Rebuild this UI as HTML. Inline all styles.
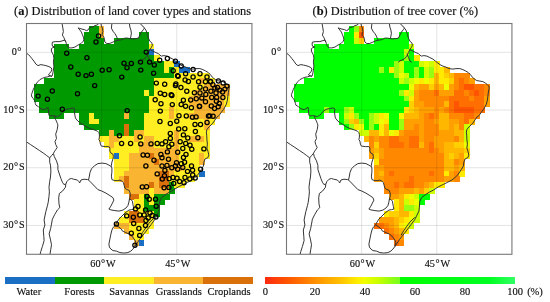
<!DOCTYPE html>
<html><head><meta charset="utf-8"><style>
html,body{margin:0;padding:0;background:#fff;}
body{width:550px;height:302px;position:relative;overflow:hidden;font-family:"Liberation Serif","Times New Roman",serif;color:#111;-webkit-text-stroke:0.15px #111;}
.t{position:absolute;font-size:12.4px;white-space:nowrap;line-height:14px;top:3.6px;}
.dg{display:inline-block;margin:0 0.9px 0 0.5px;}
.map{position:absolute;overflow:visible;}
.yl{position:absolute;font-size:10.2px;line-height:12px;white-space:nowrap;text-align:right;}
.xl{position:absolute;font-size:10.2px;line-height:12px;width:40px;text-align:center;white-space:nowrap;}
.cb{position:absolute;top:277.3px;height:6.6px;}
.cl{position:absolute;top:285.6px;font-size:10.5px;line-height:12px;white-space:nowrap;text-align:center;width:60px;}
</style></head><body>
<div class="t" style="left:14px">(<b>a</b>) Distribution of land cover types and stations</div>
<div class="t" style="left:312.5px">(<b>b</b>) Distribution of tree cover (%)</div>
<svg class="map" style="left:26.10px;top:22.90px" width="226.45" height="231.80" viewBox="-0.5 -0.5 226.45 231.80">
<svg x="0" y="0" width="225.45" height="230.80" overflow="hidden" shape-rendering="crispEdges"><rect x="62.62" y="2.88" width="10.27" height="6.02" fill="#009900"/><rect x="72.64" y="2.88" width="5.26" height="6.02" fill="#f9b532"/><rect x="57.61" y="8.65" width="15.28" height="6.02" fill="#009900"/><rect x="72.64" y="8.65" width="5.26" height="6.02" fill="#f9b532"/><rect x="112.72" y="8.65" width="10.27" height="6.02" fill="#009900"/><rect x="57.61" y="14.42" width="20.29" height="6.02" fill="#009900"/><rect x="87.67" y="14.42" width="35.32" height="6.02" fill="#009900"/><rect x="27.55" y="20.20" width="15.28" height="6.02" fill="#009900"/><rect x="52.60" y="20.20" width="70.39" height="6.02" fill="#009900"/><rect x="122.74" y="20.20" width="5.26" height="6.02" fill="#ffee22"/><rect x="27.55" y="25.96" width="95.44" height="6.02" fill="#009900"/><rect x="122.74" y="25.96" width="5.26" height="6.02" fill="#1a6fc4"/><rect x="27.55" y="31.73" width="100.45" height="6.02" fill="#009900"/><rect x="127.75" y="31.73" width="5.26" height="6.02" fill="#ffee22"/><rect x="27.55" y="37.50" width="110.47" height="6.02" fill="#009900"/><rect x="137.78" y="37.50" width="10.27" height="6.02" fill="#ffee22"/><rect x="147.79" y="37.50" width="5.26" height="6.02" fill="#1a6fc4"/><rect x="27.55" y="43.27" width="110.47" height="6.02" fill="#009900"/><rect x="137.78" y="43.27" width="5.26" height="6.02" fill="#ffee22"/><rect x="142.78" y="43.27" width="5.26" height="6.02" fill="#009900"/><rect x="147.79" y="43.27" width="5.26" height="6.02" fill="#ffee22"/><rect x="152.81" y="43.27" width="10.27" height="6.02" fill="#1a6fc4"/><rect x="27.55" y="49.04" width="120.49" height="6.02" fill="#009900"/><rect x="147.79" y="49.04" width="35.32" height="6.02" fill="#ffee22"/><rect x="17.54" y="54.81" width="110.47" height="6.02" fill="#009900"/><rect x="127.75" y="54.81" width="45.34" height="6.02" fill="#ffee22"/><rect x="172.84" y="54.81" width="5.26" height="6.02" fill="#f9b532"/><rect x="177.85" y="54.81" width="10.27" height="6.02" fill="#ffee22"/><rect x="7.51" y="60.58" width="120.49" height="6.02" fill="#009900"/><rect x="127.75" y="60.58" width="50.35" height="6.02" fill="#ffee22"/><rect x="177.85" y="60.58" width="25.30" height="6.02" fill="#f9b532"/><rect x="7.51" y="66.35" width="110.47" height="6.02" fill="#009900"/><rect x="117.73" y="66.35" width="5.26" height="6.02" fill="#ffee22"/><rect x="122.74" y="66.35" width="5.26" height="6.02" fill="#009900"/><rect x="127.75" y="66.35" width="40.33" height="6.02" fill="#ffee22"/><rect x="167.83" y="66.35" width="35.32" height="6.02" fill="#f9b532"/><rect x="7.51" y="72.12" width="115.48" height="6.02" fill="#009900"/><rect x="122.74" y="72.12" width="40.33" height="6.02" fill="#ffee22"/><rect x="162.82" y="72.12" width="35.32" height="6.02" fill="#f9b532"/><rect x="197.89" y="72.12" width="5.26" height="6.02" fill="#ffee22"/><rect x="12.52" y="77.89" width="110.47" height="6.02" fill="#009900"/><rect x="122.74" y="77.89" width="40.33" height="6.02" fill="#ffee22"/><rect x="162.82" y="77.89" width="35.32" height="6.02" fill="#f9b532"/><rect x="197.89" y="77.89" width="5.26" height="6.02" fill="#ffee22"/><rect x="12.52" y="83.66" width="110.47" height="6.02" fill="#009900"/><rect x="122.74" y="83.66" width="20.29" height="6.02" fill="#ffee22"/><rect x="142.78" y="83.66" width="5.26" height="6.02" fill="#f9b532"/><rect x="147.79" y="83.66" width="20.29" height="6.02" fill="#ffee22"/><rect x="167.83" y="83.66" width="30.31" height="6.02" fill="#f9b532"/><rect x="22.54" y="89.43" width="15.28" height="6.02" fill="#009900"/><rect x="52.60" y="89.43" width="10.27" height="6.02" fill="#009900"/><rect x="62.62" y="89.43" width="5.26" height="6.02" fill="#ffee22"/><rect x="67.63" y="89.43" width="30.31" height="6.02" fill="#009900"/><rect x="97.69" y="89.43" width="5.26" height="6.02" fill="#f9b532"/><rect x="102.70" y="89.43" width="15.28" height="6.02" fill="#009900"/><rect x="117.73" y="89.43" width="25.30" height="6.02" fill="#ffee22"/><rect x="142.78" y="89.43" width="5.26" height="6.02" fill="#f9b532"/><rect x="147.79" y="89.43" width="15.28" height="6.02" fill="#ffee22"/><rect x="162.82" y="89.43" width="30.31" height="6.02" fill="#f9b532"/><rect x="52.60" y="95.20" width="10.27" height="6.02" fill="#009900"/><rect x="62.62" y="95.20" width="10.27" height="6.02" fill="#ffee22"/><rect x="72.64" y="95.20" width="45.34" height="6.02" fill="#009900"/><rect x="117.73" y="95.20" width="60.37" height="6.02" fill="#ffee22"/><rect x="177.85" y="95.20" width="5.26" height="6.02" fill="#f9b532"/><rect x="182.86" y="95.20" width="5.26" height="6.02" fill="#ffee22"/><rect x="57.61" y="100.97" width="40.33" height="6.02" fill="#009900"/><rect x="97.69" y="100.97" width="5.26" height="6.02" fill="#d9700a"/><rect x="102.70" y="100.97" width="15.28" height="6.02" fill="#009900"/><rect x="117.73" y="100.97" width="60.37" height="6.02" fill="#ffee22"/><rect x="177.85" y="100.97" width="5.26" height="6.02" fill="#f9b532"/><rect x="72.64" y="106.74" width="10.27" height="6.02" fill="#009900"/><rect x="82.66" y="106.74" width="5.26" height="6.02" fill="#f9b532"/><rect x="87.67" y="106.74" width="10.27" height="6.02" fill="#009900"/><rect x="97.69" y="106.74" width="5.26" height="6.02" fill="#d9700a"/><rect x="102.70" y="106.74" width="5.26" height="6.02" fill="#009900"/><rect x="107.71" y="106.74" width="10.27" height="6.02" fill="#f9b532"/><rect x="117.73" y="106.74" width="30.31" height="6.02" fill="#ffee22"/><rect x="147.79" y="106.74" width="5.26" height="6.02" fill="#f9b532"/><rect x="152.81" y="106.74" width="30.31" height="6.02" fill="#ffee22"/><rect x="72.64" y="112.51" width="10.27" height="6.02" fill="#ffee22"/><rect x="82.66" y="112.51" width="10.27" height="6.02" fill="#f9b532"/><rect x="92.69" y="112.51" width="15.28" height="6.02" fill="#ffee22"/><rect x="107.71" y="112.51" width="5.26" height="6.02" fill="#f9b532"/><rect x="112.72" y="112.51" width="5.26" height="6.02" fill="#ffee22"/><rect x="117.73" y="112.51" width="10.27" height="6.02" fill="#f9b532"/><rect x="127.75" y="112.51" width="20.29" height="6.02" fill="#ffee22"/><rect x="147.79" y="112.51" width="5.26" height="6.02" fill="#f9b532"/><rect x="152.81" y="112.51" width="10.27" height="6.02" fill="#ffee22"/><rect x="162.82" y="112.51" width="15.28" height="6.02" fill="#f9b532"/><rect x="177.85" y="112.51" width="5.26" height="6.02" fill="#ffee22"/><rect x="77.66" y="118.28" width="5.26" height="6.02" fill="#ffee22"/><rect x="82.66" y="118.28" width="5.26" height="6.02" fill="#f9b532"/><rect x="87.67" y="118.28" width="25.30" height="6.02" fill="#ffee22"/><rect x="112.72" y="118.28" width="15.28" height="6.02" fill="#f9b532"/><rect x="127.75" y="118.28" width="20.29" height="6.02" fill="#ffee22"/><rect x="147.79" y="118.28" width="5.26" height="6.02" fill="#f9b532"/><rect x="152.81" y="118.28" width="30.31" height="6.02" fill="#ffee22"/><rect x="82.66" y="124.05" width="30.31" height="6.02" fill="#ffee22"/><rect x="112.72" y="124.05" width="40.33" height="6.02" fill="#f9b532"/><rect x="152.81" y="124.05" width="30.31" height="6.02" fill="#ffee22"/><rect x="82.66" y="129.82" width="5.26" height="6.02" fill="#ffee22"/><rect x="87.67" y="129.82" width="5.26" height="6.02" fill="#1a6fc4"/><rect x="92.69" y="129.82" width="10.27" height="6.02" fill="#ffee22"/><rect x="102.70" y="129.82" width="20.29" height="6.02" fill="#f9b532"/><rect x="122.74" y="129.82" width="5.26" height="6.02" fill="#d9700a"/><rect x="127.75" y="129.82" width="25.30" height="6.02" fill="#f9b532"/><rect x="152.81" y="129.82" width="20.29" height="6.02" fill="#ffee22"/><rect x="172.84" y="129.82" width="5.26" height="6.02" fill="#f9b532"/><rect x="177.85" y="129.82" width="5.26" height="6.02" fill="#ffee22"/><rect x="87.67" y="135.59" width="15.28" height="6.02" fill="#ffee22"/><rect x="102.70" y="135.59" width="25.30" height="6.02" fill="#f9b532"/><rect x="127.75" y="135.59" width="5.26" height="6.02" fill="#d9700a"/><rect x="132.76" y="135.59" width="20.29" height="6.02" fill="#f9b532"/><rect x="152.81" y="135.59" width="20.29" height="6.02" fill="#ffee22"/><rect x="172.84" y="135.59" width="5.26" height="6.02" fill="#f9b532"/><rect x="87.67" y="141.36" width="15.28" height="6.02" fill="#ffee22"/><rect x="102.70" y="141.36" width="55.36" height="6.02" fill="#f9b532"/><rect x="157.81" y="141.36" width="15.28" height="6.02" fill="#ffee22"/><rect x="87.67" y="147.13" width="10.27" height="6.02" fill="#ffee22"/><rect x="97.69" y="147.13" width="35.32" height="6.02" fill="#f9b532"/><rect x="132.76" y="147.13" width="10.27" height="6.02" fill="#d9700a"/><rect x="142.78" y="147.13" width="5.26" height="6.02" fill="#f9b532"/><rect x="147.79" y="147.13" width="25.30" height="6.02" fill="#ffee22"/><rect x="172.84" y="147.13" width="5.26" height="6.02" fill="#1a6fc4"/><rect x="87.67" y="152.91" width="5.26" height="6.02" fill="#ffee22"/><rect x="92.69" y="152.91" width="5.26" height="6.02" fill="#f9b532"/><rect x="97.69" y="152.91" width="5.26" height="6.02" fill="#d9700a"/><rect x="102.70" y="152.91" width="30.31" height="6.02" fill="#f9b532"/><rect x="132.76" y="152.91" width="10.27" height="6.02" fill="#d9700a"/><rect x="142.78" y="152.91" width="25.30" height="6.02" fill="#ffee22"/><rect x="97.69" y="158.67" width="5.26" height="6.02" fill="#d9700a"/><rect x="102.70" y="158.67" width="20.29" height="6.02" fill="#f9b532"/><rect x="122.74" y="158.67" width="5.26" height="6.02" fill="#d9700a"/><rect x="127.75" y="158.67" width="5.26" height="6.02" fill="#f9b532"/><rect x="132.76" y="158.67" width="10.27" height="6.02" fill="#d9700a"/><rect x="142.78" y="158.67" width="5.26" height="6.02" fill="#009900"/><rect x="147.79" y="158.67" width="10.27" height="6.02" fill="#ffee22"/><rect x="97.69" y="164.44" width="25.30" height="6.02" fill="#f9b532"/><rect x="122.74" y="164.44" width="5.26" height="6.02" fill="#ffee22"/><rect x="127.75" y="164.44" width="15.28" height="6.02" fill="#f9b532"/><rect x="142.78" y="164.44" width="5.26" height="6.02" fill="#009900"/><rect x="102.70" y="170.21" width="10.27" height="6.02" fill="#d9700a"/><rect x="112.72" y="170.21" width="5.26" height="6.02" fill="#ffee22"/><rect x="117.73" y="170.21" width="5.26" height="6.02" fill="#009900"/><rect x="122.74" y="170.21" width="5.26" height="6.02" fill="#ffee22"/><rect x="127.75" y="170.21" width="15.28" height="6.02" fill="#009900"/><rect x="107.71" y="175.98" width="10.27" height="6.02" fill="#ffee22"/><rect x="117.73" y="175.98" width="5.26" height="6.02" fill="#009900"/><rect x="122.74" y="175.98" width="5.26" height="6.02" fill="#ffee22"/><rect x="127.75" y="175.98" width="10.27" height="6.02" fill="#009900"/><rect x="107.71" y="181.75" width="10.27" height="6.02" fill="#ffee22"/><rect x="117.73" y="181.75" width="15.28" height="6.02" fill="#009900"/><rect x="97.69" y="187.52" width="5.26" height="6.02" fill="#ffee22"/><rect x="102.70" y="187.52" width="10.27" height="6.02" fill="#d9700a"/><rect x="112.72" y="187.52" width="15.28" height="6.02" fill="#ffee22"/><rect x="127.75" y="187.52" width="5.26" height="6.02" fill="#009900"/><rect x="92.69" y="193.29" width="10.27" height="6.02" fill="#ffee22"/><rect x="102.70" y="193.29" width="15.28" height="6.02" fill="#d9700a"/><rect x="117.73" y="193.29" width="10.27" height="6.02" fill="#ffee22"/><rect x="87.67" y="199.06" width="15.28" height="6.02" fill="#f9b532"/><rect x="102.70" y="199.06" width="25.30" height="6.02" fill="#ffee22"/><rect x="97.69" y="204.83" width="5.26" height="6.02" fill="#f9b532"/><rect x="102.70" y="204.83" width="20.29" height="6.02" fill="#ffee22"/><rect x="102.70" y="210.60" width="5.26" height="6.02" fill="#f9b532"/><rect x="107.71" y="210.60" width="10.27" height="6.02" fill="#ffee22"/><rect x="107.71" y="216.37" width="5.26" height="6.02" fill="#f9b532"/><rect x="112.72" y="216.37" width="5.26" height="6.02" fill="#1a6fc4"/></svg>
<g stroke="#000" stroke-opacity="0.14" stroke-width="0.8" fill="none">
<path d="M0 28.85H225.45M0 86.55H225.45M0 144.25H225.45M0 201.95H225.45M75.15 0V230.80M150.30 0V230.80"/>
</g>
<svg x="0" y="0" width="225.45" height="230.80" overflow="hidden"><g fill="none" stroke="#333" stroke-width="1.0" stroke-linejoin="round"><polyline points="35.6,-3.5 35.6,0.1 36.2,3.6 36.9,8.1 35.9,11.6 37.4,14.1 38.4,16.6 39.4,18.6 39.9,20.1 40.6,22.1"/><polyline points="40.6,22.1 42.4,24.4 45.4,24.4 48.4,23.6 51.4,21.6 54.4,20.1 56.9,17.6 57.4,15.6 56.9,13.6 55.9,11.1 54.9,8.6 53.4,6.6 51.6,4.4 52.9,4.8 55.4,5.6 57.9,6.1 59.9,7.1 61.4,6.6 62.4,5.1 62.9,4.1 66.4,3.4 68.4,2.1 70.4,1.6 71.9,0.6 72.6,-0.9 72.1,-3.5"/><polyline points="72.6,-0.9 74.4,-0.4 74.9,2.6 75.9,4.6 76.4,8.1 75.4,11.6 77.4,13.6 78.4,18.6 80.4,20.1 83.4,19.9 86.4,18.6 89.4,17.3 92.4,16.6 95.4,16.1 98.4,14.6 100.9,14.6 103.4,15.1 106.4,15.4 109.4,15.1 111.9,14.6 113.4,11.6 114.9,8.6 116.9,6.1 117.9,4.6"/><polyline points="85.4,-3.5 85.4,0.1 84.9,4.6 86.4,7.6 88.4,10.1 89.9,12.6 90.9,15.1 91.9,16.8"/><polyline points="102.9,-3.5 102.9,0.1 103.4,3.6 104.4,6.6 104.9,9.6 104.4,12.6 103.9,14.9"/><polyline points="111.7,-3.5 113.9,0.1 115.4,2.1 117.4,3.6 117.9,4.6 119.4,6.6 120.9,10.6 121.9,14.6 123.4,17.6 125.4,19.6 125.9,21.9 124.7,24.2 123.4,26.1 126.4,27.6 129.4,29.1 131.9,30.1 133.4,31.6 134.9,32.6 137.4,32.1 140.4,32.6 143.4,34.1 146.4,35.6 148.9,37.6 151.4,39.6 153.4,41.1 156.4,42.6 159.4,43.6 162.4,45.1 166.4,45.6 169.4,45.1 173.4,45.1 176.4,46.1 179.4,47.6 181.9,49.1 183.9,51.1 185.9,53.6 187.9,55.6 190.4,57.1 193.4,57.6 196.4,58.1 198.9,59.6 200.9,61.1 202.4,62.6 202.7,64.6 201.9,68.6 201.4,72.6 200.9,76.6 199.9,80.6 198.4,83.6 196.9,86.1 194.9,88.6 193.4,91.1 192.4,92.0 190.4,93.6 188.4,96.6 186.4,99.6 183.4,102.6 181.4,104.6 180.4,106.1 179.9,108.6 180.2,111.6 180.4,115.6 180.9,120.6 180.4,124.6 181.4,127.6 182.4,131.6 181.4,134.1 178.4,135.6 177.4,138.6 176.9,142.6 174.8,146.0 173.3,148.5 171.1,151.5 168.1,154.5 165.1,156.7 160.7,159.0 156.2,161.2 151.7,163.4 147.2,166.4 142.8,168.7 138.3,171.6 135.3,173.9 133.3,177.7 132.9,183.6 132.4,187.6 130.5,191.6 128.2,196.2 124.7,200.9 121.2,205.5 117.7,210.1 115.4,213.0 113.1,215.9 110.8,219.4 108.4,223.1 106.4,225.6 104.4,227.6 101.4,229.1 97.4,229.6 93.4,229.1 89.9,227.6 86.4,227.1 84.4,225.6 82.9,223.6 82.4,220.6 83.4,215.6 84.4,210.6 85.4,206.6 86.9,203.6 89.2,201.6"/><polyline points="128.2,193.9 123.5,198.5 120.0,203.2 117.7,206.7 116.0,209.0 114.7,211.8"/><polyline points="39.4,18.6 38.4,16.6 36.4,17.1 33.4,18.1 29.4,18.1 25.9,18.6 25.6,20.6 25.9,22.6 28.4,23.6 26.4,24.1 24.9,25.1 24.9,27.6 25.9,29.6 26.9,31.6 27.4,34.6 26.9,38.6 27.4,42.6 26.9,46.6 26.2,50.6 25.4,52.8"/><polyline points="-3.0,27.4 -0.6,29.1 1.4,30.6 3.4,32.6 5.4,35.1 7.4,37.6 9.4,40.6 11.4,42.1 14.4,41.1 16.9,41.6 19.4,42.1 22.4,43.1 24.4,44.1 25.4,45.6 24.9,47.6 22.9,50.1 21.9,51.4 23.9,52.4 25.4,52.8"/><polyline points="25.4,52.8 23.9,52.4 20.9,53.4 18.4,53.8 15.9,54.8 13.4,56.1 11.4,58.1 9.4,60.6 8.4,63.1 6.9,65.6 5.9,68.6 4.9,71.1 5.4,73.6 6.9,75.0 8.4,77.6 8.9,80.1 9.4,81.6 10.9,82.6 11.9,83.1 13.4,84.6 15.4,85.6 17.9,86.1 20.4,84.6 21.4,83.6 21.9,86.1 22.4,91.6 23.4,92.6 25.9,92.1 28.4,92.6 30.9,93.1 33.4,91.6 34.9,90.1 36.4,88.1 38.4,86.6 40.4,85.6 42.9,85.1 45.4,84.6 47.4,84.6 48.4,85.6 47.9,88.6 48.4,91.6 48.9,94.6 51.4,97.6 53.9,99.6 56.4,101.1 59.4,103.1 62.4,104.6 65.4,105.6 68.4,106.6 70.9,107.6 72.4,109.1 72.9,111.1 72.9,113.6 72.4,116.1 73.4,117.6 73.9,120.6 74.9,122.6 78.9,123.1 82.4,123.1 83.4,124.6 83.4,127.6 84.4,129.6 86.4,130.6 86.9,133.1 86.4,135.6 85.4,138.6 84.9,141.9 84.9,143.1 85.4,144.6 85.4,148.6 84.9,152.6 85.4,156.1 88.4,157.1 91.4,157.1 93.4,156.6 95.4,157.6 96.9,159.1 97.7,162.1 98.4,164.6 100.4,166.1 102.4,166.6 103.4,168.6 103.9,171.6 103.4,174.1 102.9,175.6 104.4,176.1 105.9,177.6 106.4,180.6 106.9,183.1 107.4,185.6 105.2,186.1 102.4,186.6 98.4,189.6 95.4,192.6 92.4,195.6 89.9,199.6 89.2,201.6 92.4,203.6 94.9,205.6 95.9,207.6 97.4,208.1 100.4,209.6 102.9,210.6 105.4,212.6 106.9,214.6 108.4,216.6 109.4,219.1 108.4,222.1 108.4,223.1"/><polyline points="27.2,92.0 27.9,93.1 28.9,95.6 29.9,97.6 30.9,100.1 31.4,101.6 30.7,106.1 29.2,110.6 30.0,115.0 28.5,118.0 29.2,121.0 30.7,123.9 29.2,126.2 27.7,128.4 27.0,129.9"/><polyline points="-3.0,116.0 -0.6,118.0 3.9,121.0 8.3,123.9 12.8,126.9 17.3,129.9 20.2,132.1 23.2,134.4 23.2,138.8 24.0,141.6 24.4,147.5 24.0,153.5 23.2,158.0 22.5,163.9 22.9,168.4 22.5,172.9 21.7,178.9 20.9,182.3 19.3,188.2 17.6,196.5 18.4,201.5 16.8,206.5 17.3,213.0 17.6,217.2 15.9,223.0 14.3,228.0 13.5,231.3 13.0,233.7"/><polyline points="27.0,129.9 25.0,132.1 23.2,134.4"/><polyline points="27.0,129.9 27.7,132.9 30.0,137.4 31.4,141.8 31.4,146.1 32.9,150.5 34.4,155.0 35.9,158.7 37.4,161.0 39.3,160.7"/><polyline points="39.3,160.7 38.9,163.9 35.9,167.7 32.9,169.9 32.2,174.4 32.5,180.4 33.3,184.1 30.9,186.5 28.4,190.7 25.9,195.7 25.0,200.6 24.2,204.8 22.6,210.5 23.9,215.6 25.0,221.3 24.2,226.3 23.4,231.3 23.2,233.7"/><polyline points="39.3,160.7 40.4,158.0 42.6,155.7 44.8,155.0 47.1,155.7 50.8,156.5 52.3,158.0 53.1,159.5 54.5,156.5 57.5,155.7 61.2,156.1 62.0,156.5"/><polyline points="62.0,156.5 62.7,153.5 63.5,149.0 65.0,145.3 67.9,142.3 71.4,140.1 75.4,139.6 79.4,140.1 82.4,141.6 84.9,143.1"/><polyline points="62.0,156.5 65.0,159.5 67.9,162.5 71.4,166.1 75.4,167.6 79.4,169.6 83.4,172.1 86.4,174.1 87.4,176.6 85.9,179.6 84.4,182.6 82.4,185.6 84.4,186.4 88.4,187.1 92.4,187.6 96.4,186.6 99.4,184.6 101.4,182.1 102.4,178.6 102.9,175.6"/><polyline points="123.4,26.1 122.0,28.9 120.3,32.8 117.5,35.7 113.5,37.4 111.7,38.7"/><polyline points="120.5,30.2 122.0,33.9 123.4,37.5 125.2,38.9"/></g></svg><g fill="none" stroke="#000" stroke-width="1.25"><circle cx="72.0" cy="12.4" r="2.1"/><circle cx="69.5" cy="18.5" r="2.1"/><circle cx="40.2" cy="29.7" r="2.1"/><circle cx="60.4" cy="34.3" r="2.1"/><circle cx="44.3" cy="43.4" r="2.1"/><circle cx="51.7" cy="50.8" r="2.1"/><circle cx="59.5" cy="52.1" r="2.1"/><circle cx="64.9" cy="50.7" r="2.1"/><circle cx="75.7" cy="46.7" r="2.1"/><circle cx="82.6" cy="46.3" r="2.1"/><circle cx="97.5" cy="39.8" r="2.1"/><circle cx="100.5" cy="44.3" r="2.1"/><circle cx="104.8" cy="39.9" r="2.1"/><circle cx="95.3" cy="53.6" r="2.1"/><circle cx="68.2" cy="62.1" r="2.1"/><circle cx="25.8" cy="67.5" r="2.1"/><circle cx="11.6" cy="72.6" r="2.1"/><circle cx="20.9" cy="75.7" r="2.1"/><circle cx="51.0" cy="70.3" r="2.1"/><circle cx="35.8" cy="85.7" r="2.1"/><circle cx="114.0" cy="38.6" r="2.1"/><circle cx="114.3" cy="46.6" r="2.1"/><circle cx="123.1" cy="38.6" r="2.1"/><circle cx="127.8" cy="41.5" r="2.1"/><circle cx="133.2" cy="36.7" r="2.1"/><circle cx="140.9" cy="34.9" r="2.1"/><circle cx="148.9" cy="37.8" r="2.1"/><circle cx="154.7" cy="42.5" r="2.1"/><circle cx="146.7" cy="47.3" r="2.1"/><circle cx="159.1" cy="50.2" r="2.1"/><circle cx="151.1" cy="52.3" r="2.1"/><circle cx="127.1" cy="49.8" r="2.1"/><circle cx="166.6" cy="45.9" r="2.1"/><circle cx="151.7" cy="52.8" r="2.1"/><circle cx="166.6" cy="53.5" r="2.1"/><circle cx="173.5" cy="50.3" r="2.1"/><circle cx="180.5" cy="53.5" r="2.1"/><circle cx="158.6" cy="56.4" r="2.1"/><circle cx="161.9" cy="57.9" r="2.1"/><circle cx="172.1" cy="58.3" r="2.1"/><circle cx="179.0" cy="58.3" r="2.1"/><circle cx="184.1" cy="57.9" r="2.1"/><circle cx="183.9" cy="58.3" r="2.1"/><circle cx="191.9" cy="57.5" r="2.1"/><circle cx="196.6" cy="59.4" r="2.1"/><circle cx="186.4" cy="61.2" r="2.1"/><circle cx="173.5" cy="63.7" r="2.1"/><circle cx="179.0" cy="65.5" r="2.1"/><circle cx="184.4" cy="67.7" r="2.1"/><circle cx="191.0" cy="64.0" r="2.1"/><circle cx="189.5" cy="69.5" r="2.1"/><circle cx="196.1" cy="68.4" r="2.1"/><circle cx="200.5" cy="62.6" r="2.1"/><circle cx="173.5" cy="69.5" r="2.1"/><circle cx="179.3" cy="71.0" r="2.1"/><circle cx="185.2" cy="73.9" r="2.1"/><circle cx="190.2" cy="73.9" r="2.1"/><circle cx="196.4" cy="73.9" r="2.1"/><circle cx="175.3" cy="74.6" r="2.1"/><circle cx="169.8" cy="75.2" r="2.1"/><circle cx="179.0" cy="78.2" r="2.1"/><circle cx="189.9" cy="77.8" r="2.1"/><circle cx="192.8" cy="80.0" r="2.1"/><circle cx="173.1" cy="82.9" r="2.1"/><circle cx="184.8" cy="82.5" r="2.1"/><circle cx="188.1" cy="85.0" r="2.1"/><circle cx="191.7" cy="83.3" r="2.1"/><circle cx="183.3" cy="92.4" r="2.1"/><circle cx="186.6" cy="92.7" r="2.1"/><circle cx="154.4" cy="63.9" r="2.1"/><circle cx="160.3" cy="67.8" r="2.1"/><circle cx="167.9" cy="69.2" r="2.1"/><circle cx="145.4" cy="72.0" r="2.1"/><circle cx="156.9" cy="76.8" r="2.1"/><circle cx="164.2" cy="76.5" r="2.1"/><circle cx="149.0" cy="61.9" r="2.1"/><circle cx="129.8" cy="59.6" r="2.1"/><circle cx="138.2" cy="60.7" r="2.1"/><circle cx="149.4" cy="60.4" r="2.1"/><circle cx="133.8" cy="69.8" r="2.1"/><circle cx="138.2" cy="70.9" r="2.1"/><circle cx="144.7" cy="71.3" r="2.1"/><circle cx="128.7" cy="76.3" r="2.1"/><circle cx="134.5" cy="80.3" r="2.1"/><circle cx="145.8" cy="81.1" r="2.1"/><circle cx="133.8" cy="87.6" r="2.1"/><circle cx="154.7" cy="81.0" r="2.1"/><circle cx="159.1" cy="82.8" r="2.1"/><circle cx="164.9" cy="84.2" r="2.1"/><circle cx="172.9" cy="82.8" r="2.1"/><circle cx="152.5" cy="92.3" r="2.1"/><circle cx="159.8" cy="92.6" r="2.1"/><circle cx="166.0" cy="93.7" r="2.1"/><circle cx="169.6" cy="93.4" r="2.1"/><circle cx="182.0" cy="92.6" r="2.1"/><circle cx="150.3" cy="97.7" r="2.1"/><circle cx="143.8" cy="100.1" r="2.1"/><circle cx="152.2" cy="105.5" r="2.1"/><circle cx="158.3" cy="105.2" r="2.1"/><circle cx="168.5" cy="101.1" r="2.1"/><circle cx="174.0" cy="101.1" r="2.1"/><circle cx="180.6" cy="99.0" r="2.1"/><circle cx="168.9" cy="108.1" r="2.1"/><circle cx="156.9" cy="111.4" r="2.1"/><circle cx="143.8" cy="109.9" r="2.1"/><circle cx="161.3" cy="114.6" r="2.1"/><circle cx="171.4" cy="114.2" r="2.1"/><circle cx="143.9" cy="114.9" r="2.1"/><circle cx="139.1" cy="118.2" r="2.1"/><circle cx="145.3" cy="120.7" r="2.1"/><circle cx="142.4" cy="123.2" r="2.1"/><circle cx="140.9" cy="128.4" r="2.1"/><circle cx="153.7" cy="118.2" r="2.1"/><circle cx="159.2" cy="120.0" r="2.1"/><circle cx="163.5" cy="121.8" r="2.1"/><circle cx="156.3" cy="125.1" r="2.1"/><circle cx="165.3" cy="125.8" r="2.1"/><circle cx="151.2" cy="128.7" r="2.1"/><circle cx="159.5" cy="130.9" r="2.1"/><circle cx="177.4" cy="125.4" r="2.1"/><circle cx="113.6" cy="113.5" r="2.1"/><circle cx="114.3" cy="120.4" r="2.1"/><circle cx="104.1" cy="120.1" r="2.1"/><circle cx="124.5" cy="120.4" r="2.1"/><circle cx="130.7" cy="120.1" r="2.1"/><circle cx="135.5" cy="120.4" r="2.1"/><circle cx="93.0" cy="112.3" r="2.1"/><circle cx="95.1" cy="120.0" r="2.1"/><circle cx="116.6" cy="131.6" r="2.1"/><circle cx="120.9" cy="131.7" r="2.1"/><circle cx="127.5" cy="136.8" r="2.1"/><circle cx="119.4" cy="142.6" r="2.1"/><circle cx="134.4" cy="131.0" r="2.1"/><circle cx="135.5" cy="134.3" r="2.1"/><circle cx="142.0" cy="135.7" r="2.1"/><circle cx="135.5" cy="142.6" r="2.1"/><circle cx="140.5" cy="141.9" r="2.1"/><circle cx="138.4" cy="147.0" r="2.1"/><circle cx="157.0" cy="134.0" r="2.1"/><circle cx="158.1" cy="138.8" r="2.1"/><circle cx="150.0" cy="139.2" r="2.1"/><circle cx="145.3" cy="144.2" r="2.1"/><circle cx="148.9" cy="142.5" r="2.1"/><circle cx="151.2" cy="145.7" r="2.1"/><circle cx="154.8" cy="140.3" r="2.1"/><circle cx="156.3" cy="143.9" r="2.1"/><circle cx="165.0" cy="142.5" r="2.1"/><circle cx="166.1" cy="146.8" r="2.1"/><circle cx="161.0" cy="147.9" r="2.1"/><circle cx="174.1" cy="145.7" r="2.1"/><circle cx="130.7" cy="150.4" r="2.1"/><circle cx="138.0" cy="152.3" r="2.1"/><circle cx="135.8" cy="155.5" r="2.1"/><circle cx="142.7" cy="155.2" r="2.1"/><circle cx="115.8" cy="163.5" r="2.1"/><circle cx="120.1" cy="163.2" r="2.1"/><circle cx="137.6" cy="164.3" r="2.1"/><circle cx="142.4" cy="163.9" r="2.1"/><circle cx="146.5" cy="154.1" r="2.1"/><circle cx="150.5" cy="154.8" r="2.1"/><circle cx="147.2" cy="159.9" r="2.1"/><circle cx="153.1" cy="158.1" r="2.1"/><circle cx="157.5" cy="159.2" r="2.1"/><circle cx="158.5" cy="154.1" r="2.1"/><circle cx="163.3" cy="155.5" r="2.1"/><circle cx="166.2" cy="151.5" r="2.1"/><circle cx="168.7" cy="154.5" r="2.1"/><circle cx="120.6" cy="172.9" r="2.1"/><circle cx="122.8" cy="175.8" r="2.1"/><circle cx="129.0" cy="175.8" r="2.1"/><circle cx="129.7" cy="182.7" r="2.1"/><circle cx="111.5" cy="183.1" r="2.1"/><circle cx="109.0" cy="185.4" r="2.1"/><circle cx="100.2" cy="192.4" r="2.1"/><circle cx="106.8" cy="193.8" r="2.1"/><circle cx="113.3" cy="191.6" r="2.1"/><circle cx="119.1" cy="186.5" r="2.1"/><circle cx="123.5" cy="189.4" r="2.1"/><circle cx="117.7" cy="191.6" r="2.1"/><circle cx="121.7" cy="194.5" r="2.1"/><circle cx="125.7" cy="192.0" r="2.1"/><circle cx="129.4" cy="193.5" r="2.1"/><circle cx="119.5" cy="197.1" r="2.1"/><circle cx="107.2" cy="200.0" r="2.1"/><circle cx="89.9" cy="200.6" r="2.1"/><circle cx="112.4" cy="205.0" r="2.1"/><circle cx="119.0" cy="202.1" r="2.1"/><circle cx="104.8" cy="209.7" r="2.1"/><circle cx="113.2" cy="211.9" r="2.1"/><circle cx="108.4" cy="221.8" r="2.1"/><circle cx="133.5" cy="98.1" r="2.1"/><circle cx="100.7" cy="87.1" r="2.1"/><circle cx="119.7" cy="28.6" r="2.1"/><circle cx="188.4" cy="64.6" r="2.1"/><circle cx="193.4" cy="66.6" r="2.1"/><circle cx="198.4" cy="65.6" r="2.1"/></g>
<rect x="0" y="0" width="225.45" height="230.80" fill="none" stroke="#777" stroke-width="1.1"/>
</svg>
<svg class="map" style="left:285.70px;top:22.90px" width="226.45" height="231.80" viewBox="-0.5 -0.5 226.45 231.80">
<svg x="0" y="0" width="225.45" height="230.80" overflow="hidden" shape-rendering="crispEdges"><rect x="62.62" y="2.88" width="5.26" height="6.02" fill="#00ff00"/><rect x="67.63" y="2.88" width="5.26" height="6.02" fill="#99ff11"/><rect x="72.64" y="2.88" width="5.26" height="6.02" fill="#ff8800"/><rect x="57.61" y="8.65" width="10.27" height="6.02" fill="#00ff00"/><rect x="67.63" y="8.65" width="5.26" height="6.02" fill="#ffea00"/><rect x="72.64" y="8.65" width="5.26" height="6.02" fill="#ff5500"/><rect x="112.72" y="8.65" width="10.27" height="6.02" fill="#00ff00"/><rect x="57.61" y="14.42" width="10.27" height="6.02" fill="#00ff00"/><rect x="67.63" y="14.42" width="5.26" height="6.02" fill="#ccff00"/><rect x="72.64" y="14.42" width="5.26" height="6.02" fill="#ffd000"/><rect x="87.67" y="14.42" width="35.32" height="6.02" fill="#00ff00"/><rect x="27.55" y="20.20" width="15.28" height="6.02" fill="#00ff00"/><rect x="52.60" y="20.20" width="70.39" height="6.02" fill="#00ff00"/><rect x="122.74" y="20.20" width="5.26" height="6.02" fill="#ccff00"/><rect x="27.55" y="25.96" width="90.43" height="6.02" fill="#00ff00"/><rect x="117.73" y="25.96" width="5.26" height="6.02" fill="#ccff00"/><rect x="122.74" y="25.96" width="5.26" height="6.02" fill="#00ff00"/><rect x="27.55" y="31.73" width="90.43" height="6.02" fill="#00ff00"/><rect x="117.73" y="31.73" width="5.26" height="6.02" fill="#99ff11"/><rect x="122.74" y="31.73" width="5.26" height="6.02" fill="#00ff00"/><rect x="127.75" y="31.73" width="5.26" height="6.02" fill="#ffea00"/><rect x="27.55" y="37.50" width="80.41" height="6.02" fill="#00ff00"/><rect x="107.71" y="37.50" width="5.26" height="6.02" fill="#99ff11"/><rect x="112.72" y="37.50" width="5.26" height="6.02" fill="#ccff00"/><rect x="117.73" y="37.50" width="15.28" height="6.02" fill="#00ff00"/><rect x="132.76" y="37.50" width="5.26" height="6.02" fill="#ccff00"/><rect x="137.78" y="37.50" width="5.26" height="6.02" fill="#eeff00"/><rect x="142.78" y="37.50" width="5.26" height="6.02" fill="#ccff00"/><rect x="147.79" y="37.50" width="5.26" height="6.02" fill="#ffea00"/><rect x="27.55" y="43.27" width="65.38" height="6.02" fill="#00ff00"/><rect x="92.69" y="43.27" width="5.26" height="6.02" fill="#99ff11"/><rect x="97.69" y="43.27" width="5.26" height="6.02" fill="#00ff00"/><rect x="102.70" y="43.27" width="5.26" height="6.02" fill="#ffea00"/><rect x="107.71" y="43.27" width="5.26" height="6.02" fill="#99ff11"/><rect x="112.72" y="43.27" width="5.26" height="6.02" fill="#ccff00"/><rect x="117.73" y="43.27" width="10.27" height="6.02" fill="#00ff00"/><rect x="127.75" y="43.27" width="5.26" height="6.02" fill="#99ff11"/><rect x="132.76" y="43.27" width="5.26" height="6.02" fill="#00ff00"/><rect x="137.78" y="43.27" width="5.26" height="6.02" fill="#ccff00"/><rect x="142.78" y="43.27" width="5.26" height="6.02" fill="#99ff11"/><rect x="147.79" y="43.27" width="10.27" height="6.02" fill="#ffea00"/><rect x="157.81" y="43.27" width="5.26" height="6.02" fill="#ffb700"/><rect x="27.55" y="49.04" width="80.41" height="6.02" fill="#00ff00"/><rect x="107.71" y="49.04" width="5.26" height="6.02" fill="#99ff11"/><rect x="112.72" y="49.04" width="5.26" height="6.02" fill="#eeff00"/><rect x="117.73" y="49.04" width="5.26" height="6.02" fill="#ccff00"/><rect x="122.74" y="49.04" width="5.26" height="6.02" fill="#00ff00"/><rect x="127.75" y="49.04" width="5.26" height="6.02" fill="#99ff11"/><rect x="132.76" y="49.04" width="5.26" height="6.02" fill="#00ff00"/><rect x="137.78" y="49.04" width="5.26" height="6.02" fill="#ccff00"/><rect x="142.78" y="49.04" width="5.26" height="6.02" fill="#99ff11"/><rect x="147.79" y="49.04" width="5.26" height="6.02" fill="#ffb700"/><rect x="152.81" y="49.04" width="5.26" height="6.02" fill="#ffea00"/><rect x="157.81" y="49.04" width="5.26" height="6.02" fill="#ffd000"/><rect x="162.82" y="49.04" width="5.26" height="6.02" fill="#ffb700"/><rect x="167.83" y="49.04" width="15.28" height="6.02" fill="#ff8800"/><rect x="17.54" y="54.81" width="95.44" height="6.02" fill="#00ff00"/><rect x="112.72" y="54.81" width="5.26" height="6.02" fill="#ccff00"/><rect x="117.73" y="54.81" width="5.26" height="6.02" fill="#99ff11"/><rect x="122.74" y="54.81" width="5.26" height="6.02" fill="#ccff00"/><rect x="127.75" y="54.81" width="5.26" height="6.02" fill="#eeff00"/><rect x="132.76" y="54.81" width="5.26" height="6.02" fill="#ffea00"/><rect x="137.78" y="54.81" width="5.26" height="6.02" fill="#eeff00"/><rect x="142.78" y="54.81" width="5.26" height="6.02" fill="#ffea00"/><rect x="147.79" y="54.81" width="5.26" height="6.02" fill="#ffb700"/><rect x="152.81" y="54.81" width="10.27" height="6.02" fill="#ffea00"/><rect x="162.82" y="54.81" width="5.26" height="6.02" fill="#ffd000"/><rect x="167.83" y="54.81" width="5.26" height="6.02" fill="#ff8800"/><rect x="172.84" y="54.81" width="5.26" height="6.02" fill="#ff6e00"/><rect x="177.85" y="54.81" width="5.26" height="6.02" fill="#ff8800"/><rect x="182.86" y="54.81" width="5.26" height="6.02" fill="#ff9f00"/><rect x="7.51" y="60.58" width="115.48" height="6.02" fill="#00ff00"/><rect x="122.74" y="60.58" width="5.26" height="6.02" fill="#eeff00"/><rect x="127.75" y="60.58" width="5.26" height="6.02" fill="#ffb700"/><rect x="132.76" y="60.58" width="10.27" height="6.02" fill="#ff9f00"/><rect x="142.78" y="60.58" width="5.26" height="6.02" fill="#ffd000"/><rect x="147.79" y="60.58" width="5.26" height="6.02" fill="#ff9f00"/><rect x="152.81" y="60.58" width="5.26" height="6.02" fill="#ffb700"/><rect x="157.81" y="60.58" width="5.26" height="6.02" fill="#eeff00"/><rect x="162.82" y="60.58" width="5.26" height="6.02" fill="#ff9f00"/><rect x="167.83" y="60.58" width="5.26" height="6.02" fill="#ff8800"/><rect x="172.84" y="60.58" width="5.26" height="6.02" fill="#ff6e00"/><rect x="177.85" y="60.58" width="10.27" height="6.02" fill="#ff5500"/><rect x="187.88" y="60.58" width="10.27" height="6.02" fill="#ff6e00"/><rect x="197.89" y="60.58" width="5.26" height="6.02" fill="#ff8800"/><rect x="7.51" y="66.35" width="105.46" height="6.02" fill="#00ff00"/><rect x="112.72" y="66.35" width="5.26" height="6.02" fill="#99ff11"/><rect x="117.73" y="66.35" width="5.26" height="6.02" fill="#ffea00"/><rect x="122.74" y="66.35" width="5.26" height="6.02" fill="#ccff00"/><rect x="127.75" y="66.35" width="5.26" height="6.02" fill="#ff9f00"/><rect x="132.76" y="66.35" width="15.28" height="6.02" fill="#ff8800"/><rect x="147.79" y="66.35" width="5.26" height="6.02" fill="#ff6e00"/><rect x="152.81" y="66.35" width="15.28" height="6.02" fill="#ff9f00"/><rect x="167.83" y="66.35" width="10.27" height="6.02" fill="#ff6e00"/><rect x="177.85" y="66.35" width="5.26" height="6.02" fill="#ff8800"/><rect x="182.86" y="66.35" width="5.26" height="6.02" fill="#ff6e00"/><rect x="187.88" y="66.35" width="5.26" height="6.02" fill="#ff5500"/><rect x="192.88" y="66.35" width="5.26" height="6.02" fill="#ff6e00"/><rect x="197.89" y="66.35" width="5.26" height="6.02" fill="#ff8800"/><rect x="7.51" y="72.12" width="110.47" height="6.02" fill="#00ff00"/><rect x="117.73" y="72.12" width="5.26" height="6.02" fill="#99ff11"/><rect x="122.74" y="72.12" width="5.26" height="6.02" fill="#ffea00"/><rect x="127.75" y="72.12" width="5.26" height="6.02" fill="#ff9f00"/><rect x="132.76" y="72.12" width="30.31" height="6.02" fill="#ff8800"/><rect x="162.82" y="72.12" width="20.29" height="6.02" fill="#ff6e00"/><rect x="182.86" y="72.12" width="5.26" height="6.02" fill="#ff8800"/><rect x="187.88" y="72.12" width="10.27" height="6.02" fill="#ff6e00"/><rect x="197.89" y="72.12" width="5.26" height="6.02" fill="#ff9f00"/><rect x="12.52" y="77.89" width="110.47" height="6.02" fill="#00ff00"/><rect x="122.74" y="77.89" width="5.26" height="6.02" fill="#ffd000"/><rect x="127.75" y="77.89" width="10.27" height="6.02" fill="#ff9f00"/><rect x="137.78" y="77.89" width="20.29" height="6.02" fill="#ff8800"/><rect x="157.81" y="77.89" width="5.26" height="6.02" fill="#ffb700"/><rect x="162.82" y="77.89" width="5.26" height="6.02" fill="#ff6e00"/><rect x="167.83" y="77.89" width="5.26" height="6.02" fill="#ff5500"/><rect x="172.84" y="77.89" width="25.30" height="6.02" fill="#ff6e00"/><rect x="197.89" y="77.89" width="5.26" height="6.02" fill="#ff9f00"/><rect x="12.52" y="83.66" width="25.30" height="6.02" fill="#00ff00"/><rect x="37.57" y="83.66" width="5.26" height="6.02" fill="#99ff11"/><rect x="42.59" y="83.66" width="15.28" height="6.02" fill="#00ff00"/><rect x="57.61" y="83.66" width="5.26" height="6.02" fill="#99ff11"/><rect x="62.62" y="83.66" width="5.26" height="6.02" fill="#ccff00"/><rect x="67.63" y="83.66" width="50.35" height="6.02" fill="#00ff00"/><rect x="117.73" y="83.66" width="5.26" height="6.02" fill="#ffea00"/><rect x="122.74" y="83.66" width="5.26" height="6.02" fill="#ffd000"/><rect x="127.75" y="83.66" width="5.26" height="6.02" fill="#ffb700"/><rect x="132.76" y="83.66" width="15.28" height="6.02" fill="#ff9f00"/><rect x="147.79" y="83.66" width="5.26" height="6.02" fill="#ff8800"/><rect x="152.81" y="83.66" width="5.26" height="6.02" fill="#ff9f00"/><rect x="157.81" y="83.66" width="5.26" height="6.02" fill="#ff8800"/><rect x="162.82" y="83.66" width="5.26" height="6.02" fill="#ff6e00"/><rect x="167.83" y="83.66" width="20.29" height="6.02" fill="#ff5500"/><rect x="187.88" y="83.66" width="10.27" height="6.02" fill="#ff6e00"/><rect x="22.54" y="89.43" width="15.28" height="6.02" fill="#00ff00"/><rect x="52.60" y="89.43" width="5.26" height="6.02" fill="#00ff00"/><rect x="57.61" y="89.43" width="5.26" height="6.02" fill="#ccff00"/><rect x="62.62" y="89.43" width="5.26" height="6.02" fill="#ffea00"/><rect x="67.63" y="89.43" width="5.26" height="6.02" fill="#99ff11"/><rect x="72.64" y="89.43" width="10.27" height="6.02" fill="#00ff00"/><rect x="82.66" y="89.43" width="5.26" height="6.02" fill="#99ff11"/><rect x="87.67" y="89.43" width="5.26" height="6.02" fill="#ccff00"/><rect x="92.69" y="89.43" width="5.26" height="6.02" fill="#ffea00"/><rect x="97.69" y="89.43" width="5.26" height="6.02" fill="#eeff00"/><rect x="102.70" y="89.43" width="10.27" height="6.02" fill="#00ff00"/><rect x="112.72" y="89.43" width="5.26" height="6.02" fill="#eeff00"/><rect x="117.73" y="89.43" width="15.28" height="6.02" fill="#ffb700"/><rect x="132.76" y="89.43" width="5.26" height="6.02" fill="#ff9f00"/><rect x="137.78" y="89.43" width="5.26" height="6.02" fill="#ff8800"/><rect x="142.78" y="89.43" width="5.26" height="6.02" fill="#ff6e00"/><rect x="147.79" y="89.43" width="5.26" height="6.02" fill="#ff8800"/><rect x="152.81" y="89.43" width="10.27" height="6.02" fill="#ffb700"/><rect x="162.82" y="89.43" width="15.28" height="6.02" fill="#ff8800"/><rect x="177.85" y="89.43" width="10.27" height="6.02" fill="#ff6e00"/><rect x="187.88" y="89.43" width="5.26" height="6.02" fill="#ff8800"/><rect x="52.60" y="95.20" width="5.26" height="6.02" fill="#00ff00"/><rect x="57.61" y="95.20" width="5.26" height="6.02" fill="#99ff11"/><rect x="62.62" y="95.20" width="5.26" height="6.02" fill="#ffd000"/><rect x="67.63" y="95.20" width="5.26" height="6.02" fill="#ffb700"/><rect x="72.64" y="95.20" width="5.26" height="6.02" fill="#99ff11"/><rect x="77.66" y="95.20" width="5.26" height="6.02" fill="#00ff00"/><rect x="82.66" y="95.20" width="5.26" height="6.02" fill="#99ff11"/><rect x="87.67" y="95.20" width="5.26" height="6.02" fill="#ccff00"/><rect x="92.69" y="95.20" width="5.26" height="6.02" fill="#eeff00"/><rect x="97.69" y="95.20" width="5.26" height="6.02" fill="#ffea00"/><rect x="102.70" y="95.20" width="10.27" height="6.02" fill="#00ff00"/><rect x="112.72" y="95.20" width="5.26" height="6.02" fill="#99ff11"/><rect x="117.73" y="95.20" width="20.29" height="6.02" fill="#ff9f00"/><rect x="137.78" y="95.20" width="10.27" height="6.02" fill="#ff8800"/><rect x="147.79" y="95.20" width="5.26" height="6.02" fill="#ff9f00"/><rect x="152.81" y="95.20" width="10.27" height="6.02" fill="#ffb700"/><rect x="162.82" y="95.20" width="10.27" height="6.02" fill="#ff9f00"/><rect x="172.84" y="95.20" width="5.26" height="6.02" fill="#ff8800"/><rect x="177.85" y="95.20" width="5.26" height="6.02" fill="#ff6e00"/><rect x="182.86" y="95.20" width="5.26" height="6.02" fill="#ffb700"/><rect x="57.61" y="100.97" width="5.26" height="6.02" fill="#00ff00"/><rect x="62.62" y="100.97" width="5.26" height="6.02" fill="#99ff11"/><rect x="67.63" y="100.97" width="5.26" height="6.02" fill="#ffea00"/><rect x="72.64" y="100.97" width="5.26" height="6.02" fill="#eeff00"/><rect x="77.66" y="100.97" width="5.26" height="6.02" fill="#00ff00"/><rect x="82.66" y="100.97" width="5.26" height="6.02" fill="#99ff11"/><rect x="87.67" y="100.97" width="5.26" height="6.02" fill="#00ff00"/><rect x="92.69" y="100.97" width="5.26" height="6.02" fill="#ffea00"/><rect x="97.69" y="100.97" width="5.26" height="6.02" fill="#ffb700"/><rect x="102.70" y="100.97" width="10.27" height="6.02" fill="#00ff00"/><rect x="112.72" y="100.97" width="5.26" height="6.02" fill="#99ff11"/><rect x="117.73" y="100.97" width="10.27" height="6.02" fill="#ff9f00"/><rect x="127.75" y="100.97" width="5.26" height="6.02" fill="#ff8800"/><rect x="132.76" y="100.97" width="5.26" height="6.02" fill="#ff9f00"/><rect x="137.78" y="100.97" width="15.28" height="6.02" fill="#ff8800"/><rect x="152.81" y="100.97" width="10.27" height="6.02" fill="#ffb700"/><rect x="162.82" y="100.97" width="5.26" height="6.02" fill="#ff9f00"/><rect x="167.83" y="100.97" width="5.26" height="6.02" fill="#ffb700"/><rect x="172.84" y="100.97" width="5.26" height="6.02" fill="#ff8800"/><rect x="177.85" y="100.97" width="5.26" height="6.02" fill="#ccff00"/><rect x="72.64" y="106.74" width="10.27" height="6.02" fill="#ccff00"/><rect x="82.66" y="106.74" width="10.27" height="6.02" fill="#ffb700"/><rect x="92.69" y="106.74" width="5.26" height="6.02" fill="#ffea00"/><rect x="97.69" y="106.74" width="5.26" height="6.02" fill="#ffb700"/><rect x="102.70" y="106.74" width="5.26" height="6.02" fill="#eeff00"/><rect x="107.71" y="106.74" width="5.26" height="6.02" fill="#ffea00"/><rect x="112.72" y="106.74" width="5.26" height="6.02" fill="#ff9f00"/><rect x="117.73" y="106.74" width="15.28" height="6.02" fill="#ff8800"/><rect x="132.76" y="106.74" width="5.26" height="6.02" fill="#ff9f00"/><rect x="137.78" y="106.74" width="15.28" height="6.02" fill="#ff8800"/><rect x="152.81" y="106.74" width="15.28" height="6.02" fill="#ff9f00"/><rect x="167.83" y="106.74" width="10.27" height="6.02" fill="#ffb700"/><rect x="177.85" y="106.74" width="5.26" height="6.02" fill="#ccff00"/><rect x="77.66" y="112.51" width="5.26" height="6.02" fill="#ffb700"/><rect x="82.66" y="112.51" width="5.26" height="6.02" fill="#ff8800"/><rect x="87.67" y="112.51" width="5.26" height="6.02" fill="#ff9f00"/><rect x="92.69" y="112.51" width="10.27" height="6.02" fill="#ff8800"/><rect x="102.70" y="112.51" width="10.27" height="6.02" fill="#ff6e00"/><rect x="112.72" y="112.51" width="10.27" height="6.02" fill="#ff8800"/><rect x="122.74" y="112.51" width="10.27" height="6.02" fill="#ff6e00"/><rect x="132.76" y="112.51" width="5.26" height="6.02" fill="#ff9f00"/><rect x="137.78" y="112.51" width="10.27" height="6.02" fill="#ff8800"/><rect x="147.79" y="112.51" width="20.29" height="6.02" fill="#ff9f00"/><rect x="167.83" y="112.51" width="5.26" height="6.02" fill="#ff8800"/><rect x="172.84" y="112.51" width="5.26" height="6.02" fill="#ffb700"/><rect x="177.85" y="112.51" width="5.26" height="6.02" fill="#ccff00"/><rect x="82.66" y="118.28" width="5.26" height="6.02" fill="#ff8800"/><rect x="87.67" y="118.28" width="5.26" height="6.02" fill="#ffd000"/><rect x="92.69" y="118.28" width="10.27" height="6.02" fill="#ff8800"/><rect x="102.70" y="118.28" width="15.28" height="6.02" fill="#ff6e00"/><rect x="117.73" y="118.28" width="5.26" height="6.02" fill="#ff8800"/><rect x="122.74" y="118.28" width="10.27" height="6.02" fill="#ff6e00"/><rect x="132.76" y="118.28" width="5.26" height="6.02" fill="#ffb700"/><rect x="137.78" y="118.28" width="5.26" height="6.02" fill="#ff8800"/><rect x="142.78" y="118.28" width="5.26" height="6.02" fill="#ff6e00"/><rect x="147.79" y="118.28" width="10.27" height="6.02" fill="#ff9f00"/><rect x="157.81" y="118.28" width="10.27" height="6.02" fill="#ffb700"/><rect x="167.83" y="118.28" width="10.27" height="6.02" fill="#ffd000"/><rect x="177.85" y="118.28" width="5.26" height="6.02" fill="#eeff00"/><rect x="82.66" y="124.05" width="5.26" height="6.02" fill="#ff9f00"/><rect x="87.67" y="124.05" width="5.26" height="6.02" fill="#ffb700"/><rect x="92.69" y="124.05" width="5.26" height="6.02" fill="#ff9f00"/><rect x="97.69" y="124.05" width="45.34" height="6.02" fill="#ff8800"/><rect x="142.78" y="124.05" width="5.26" height="6.02" fill="#ff6e00"/><rect x="147.79" y="124.05" width="5.26" height="6.02" fill="#ff8800"/><rect x="152.81" y="124.05" width="5.26" height="6.02" fill="#ff9f00"/><rect x="157.81" y="124.05" width="20.29" height="6.02" fill="#ffb700"/><rect x="177.85" y="124.05" width="5.26" height="6.02" fill="#ffd000"/><rect x="82.66" y="129.82" width="5.26" height="6.02" fill="#ff9f00"/><rect x="87.67" y="129.82" width="5.26" height="6.02" fill="#ffd000"/><rect x="92.69" y="129.82" width="5.26" height="6.02" fill="#ff9f00"/><rect x="97.69" y="129.82" width="60.37" height="6.02" fill="#ff8800"/><rect x="157.81" y="129.82" width="5.26" height="6.02" fill="#ffb700"/><rect x="162.82" y="129.82" width="5.26" height="6.02" fill="#ffd000"/><rect x="167.83" y="129.82" width="5.26" height="6.02" fill="#ffb700"/><rect x="172.84" y="129.82" width="5.26" height="6.02" fill="#ff9f00"/><rect x="177.85" y="129.82" width="5.26" height="6.02" fill="#ffea00"/><rect x="87.67" y="135.59" width="5.26" height="6.02" fill="#ffea00"/><rect x="92.69" y="135.59" width="65.38" height="6.02" fill="#ff8800"/><rect x="157.81" y="135.59" width="10.27" height="6.02" fill="#ffb700"/><rect x="167.83" y="135.59" width="5.26" height="6.02" fill="#ff8800"/><rect x="172.84" y="135.59" width="5.26" height="6.02" fill="#ff9f00"/><rect x="87.67" y="141.36" width="10.27" height="6.02" fill="#ff9f00"/><rect x="97.69" y="141.36" width="60.37" height="6.02" fill="#ff8800"/><rect x="157.81" y="141.36" width="10.27" height="6.02" fill="#ffb700"/><rect x="167.83" y="141.36" width="5.26" height="6.02" fill="#ff9f00"/><rect x="172.84" y="141.36" width="5.26" height="6.02" fill="#ffb700"/><rect x="87.67" y="147.13" width="5.26" height="6.02" fill="#ff9f00"/><rect x="92.69" y="147.13" width="5.26" height="6.02" fill="#ffb700"/><rect x="97.69" y="147.13" width="5.26" height="6.02" fill="#ff8800"/><rect x="102.70" y="147.13" width="5.26" height="6.02" fill="#ff6e00"/><rect x="107.71" y="147.13" width="35.32" height="6.02" fill="#ff8800"/><rect x="142.78" y="147.13" width="5.26" height="6.02" fill="#ff6e00"/><rect x="147.79" y="147.13" width="10.27" height="6.02" fill="#ff8800"/><rect x="157.81" y="147.13" width="5.26" height="6.02" fill="#ffea00"/><rect x="162.82" y="147.13" width="5.26" height="6.02" fill="#ff9f00"/><rect x="167.83" y="147.13" width="5.26" height="6.02" fill="#ff8800"/><rect x="172.84" y="147.13" width="5.26" height="6.02" fill="#ffea00"/><rect x="87.67" y="152.91" width="10.27" height="6.02" fill="#ff9f00"/><rect x="97.69" y="152.91" width="25.30" height="6.02" fill="#ff8800"/><rect x="122.74" y="152.91" width="5.26" height="6.02" fill="#ff6e00"/><rect x="127.75" y="152.91" width="30.31" height="6.02" fill="#ff8800"/><rect x="157.81" y="152.91" width="10.27" height="6.02" fill="#ff9f00"/><rect x="167.83" y="152.91" width="5.26" height="6.02" fill="#ff8800"/><rect x="97.69" y="158.67" width="10.27" height="6.02" fill="#ff8800"/><rect x="107.71" y="158.67" width="5.26" height="6.02" fill="#ff6e00"/><rect x="112.72" y="158.67" width="5.26" height="6.02" fill="#ff8800"/><rect x="117.73" y="158.67" width="10.27" height="6.02" fill="#ff6e00"/><rect x="127.75" y="158.67" width="10.27" height="6.02" fill="#ff8800"/><rect x="137.78" y="158.67" width="5.26" height="6.02" fill="#ff9f00"/><rect x="142.78" y="158.67" width="5.26" height="6.02" fill="#ffb700"/><rect x="147.79" y="158.67" width="10.27" height="6.02" fill="#ffea00"/><rect x="97.69" y="164.44" width="15.28" height="6.02" fill="#ff8800"/><rect x="112.72" y="164.44" width="15.28" height="6.02" fill="#ff9f00"/><rect x="127.75" y="164.44" width="5.26" height="6.02" fill="#ffb700"/><rect x="132.76" y="164.44" width="5.26" height="6.02" fill="#ff9f00"/><rect x="137.78" y="164.44" width="5.26" height="6.02" fill="#ffd000"/><rect x="142.78" y="164.44" width="5.26" height="6.02" fill="#ccff00"/><rect x="102.70" y="170.21" width="10.27" height="6.02" fill="#ff9f00"/><rect x="112.72" y="170.21" width="5.26" height="6.02" fill="#ffb700"/><rect x="117.73" y="170.21" width="5.26" height="6.02" fill="#ffea00"/><rect x="122.74" y="170.21" width="5.26" height="6.02" fill="#eeff00"/><rect x="127.75" y="170.21" width="5.26" height="6.02" fill="#ccff00"/><rect x="132.76" y="170.21" width="10.27" height="6.02" fill="#00ff00"/><rect x="107.71" y="175.98" width="5.26" height="6.02" fill="#ffea00"/><rect x="112.72" y="175.98" width="5.26" height="6.02" fill="#ffb700"/><rect x="117.73" y="175.98" width="5.26" height="6.02" fill="#ccff00"/><rect x="122.74" y="175.98" width="5.26" height="6.02" fill="#ffea00"/><rect x="127.75" y="175.98" width="5.26" height="6.02" fill="#eeff00"/><rect x="132.76" y="175.98" width="5.26" height="6.02" fill="#00ff00"/><rect x="107.71" y="181.75" width="5.26" height="6.02" fill="#ffea00"/><rect x="112.72" y="181.75" width="5.26" height="6.02" fill="#ffb700"/><rect x="117.73" y="181.75" width="10.27" height="6.02" fill="#99ff11"/><rect x="127.75" y="181.75" width="5.26" height="6.02" fill="#ccff00"/><rect x="97.69" y="187.52" width="5.26" height="6.02" fill="#ffea00"/><rect x="102.70" y="187.52" width="10.27" height="6.02" fill="#ffd000"/><rect x="112.72" y="187.52" width="10.27" height="6.02" fill="#ffb700"/><rect x="122.74" y="187.52" width="5.26" height="6.02" fill="#ffea00"/><rect x="127.75" y="187.52" width="5.26" height="6.02" fill="#ccff00"/><rect x="92.69" y="193.29" width="15.28" height="6.02" fill="#ff9f00"/><rect x="107.71" y="193.29" width="5.26" height="6.02" fill="#ffb700"/><rect x="112.72" y="193.29" width="5.26" height="6.02" fill="#ffd000"/><rect x="117.73" y="193.29" width="5.26" height="6.02" fill="#ffea00"/><rect x="122.74" y="193.29" width="5.26" height="6.02" fill="#eeff00"/><rect x="127.75" y="193.29" width="5.26" height="6.02" fill="#ccff00"/><rect x="87.67" y="199.06" width="10.27" height="6.02" fill="#ff6e00"/><rect x="97.69" y="199.06" width="5.26" height="6.02" fill="#ff8800"/><rect x="102.70" y="199.06" width="5.26" height="6.02" fill="#ff9f00"/><rect x="107.71" y="199.06" width="5.26" height="6.02" fill="#ffb700"/><rect x="112.72" y="199.06" width="5.26" height="6.02" fill="#ffea00"/><rect x="117.73" y="199.06" width="5.26" height="6.02" fill="#eeff00"/><rect x="122.74" y="199.06" width="5.26" height="6.02" fill="#ccff00"/><rect x="97.69" y="204.83" width="5.26" height="6.02" fill="#ff6e00"/><rect x="102.70" y="204.83" width="5.26" height="6.02" fill="#ff8800"/><rect x="107.71" y="204.83" width="5.26" height="6.02" fill="#ff9f00"/><rect x="112.72" y="204.83" width="5.26" height="6.02" fill="#ffb700"/><rect x="117.73" y="204.83" width="5.26" height="6.02" fill="#ffea00"/><rect x="102.70" y="210.60" width="5.26" height="6.02" fill="#ff6e00"/><rect x="107.71" y="210.60" width="5.26" height="6.02" fill="#ff8800"/><rect x="112.72" y="210.60" width="5.26" height="6.02" fill="#ff9f00"/><rect x="107.71" y="216.37" width="5.26" height="6.02" fill="#ff6e00"/><rect x="112.72" y="216.37" width="5.26" height="6.02" fill="#ff8800"/></svg>
<g stroke="#000" stroke-opacity="0.14" stroke-width="0.8" fill="none">
<path d="M0 28.85H225.45M0 86.55H225.45M0 144.25H225.45M0 201.95H225.45M75.15 0V230.80M150.30 0V230.80"/>
</g>
<svg x="0" y="0" width="225.45" height="230.80" overflow="hidden"><g fill="none" stroke="#333" stroke-width="1.0" stroke-linejoin="round"><polyline points="35.6,-3.5 35.6,0.1 36.2,3.6 36.9,8.1 35.9,11.6 37.4,14.1 38.4,16.6 39.4,18.6 39.9,20.1 40.6,22.1"/><polyline points="40.6,22.1 42.4,24.4 45.4,24.4 48.4,23.6 51.4,21.6 54.4,20.1 56.9,17.6 57.4,15.6 56.9,13.6 55.9,11.1 54.9,8.6 53.4,6.6 51.6,4.4 52.9,4.8 55.4,5.6 57.9,6.1 59.9,7.1 61.4,6.6 62.4,5.1 62.9,4.1 66.4,3.4 68.4,2.1 70.4,1.6 71.9,0.6 72.6,-0.9 72.1,-3.5"/><polyline points="72.6,-0.9 74.4,-0.4 74.9,2.6 75.9,4.6 76.4,8.1 75.4,11.6 77.4,13.6 78.4,18.6 80.4,20.1 83.4,19.9 86.4,18.6 89.4,17.3 92.4,16.6 95.4,16.1 98.4,14.6 100.9,14.6 103.4,15.1 106.4,15.4 109.4,15.1 111.9,14.6 113.4,11.6 114.9,8.6 116.9,6.1 117.9,4.6"/><polyline points="85.4,-3.5 85.4,0.1 84.9,4.6 86.4,7.6 88.4,10.1 89.9,12.6 90.9,15.1 91.9,16.8"/><polyline points="102.9,-3.5 102.9,0.1 103.4,3.6 104.4,6.6 104.9,9.6 104.4,12.6 103.9,14.9"/><polyline points="111.7,-3.5 113.9,0.1 115.4,2.1 117.4,3.6 117.9,4.6 119.4,6.6 120.9,10.6 121.9,14.6 123.4,17.6 125.4,19.6 125.9,21.9 124.7,24.2 123.4,26.1 126.4,27.6 129.4,29.1 131.9,30.1 133.4,31.6 134.9,32.6 137.4,32.1 140.4,32.6 143.4,34.1 146.4,35.6 148.9,37.6 151.4,39.6 153.4,41.1 156.4,42.6 159.4,43.6 162.4,45.1 166.4,45.6 169.4,45.1 173.4,45.1 176.4,46.1 179.4,47.6 181.9,49.1 183.9,51.1 185.9,53.6 187.9,55.6 190.4,57.1 193.4,57.6 196.4,58.1 198.9,59.6 200.9,61.1 202.4,62.6 202.7,64.6 201.9,68.6 201.4,72.6 200.9,76.6 199.9,80.6 198.4,83.6 196.9,86.1 194.9,88.6 193.4,91.1 192.4,92.0 190.4,93.6 188.4,96.6 186.4,99.6 183.4,102.6 181.4,104.6 180.4,106.1 179.9,108.6 180.2,111.6 180.4,115.6 180.9,120.6 180.4,124.6 181.4,127.6 182.4,131.6 181.4,134.1 178.4,135.6 177.4,138.6 176.9,142.6 174.8,146.0 173.3,148.5 171.1,151.5 168.1,154.5 165.1,156.7 160.7,159.0 156.2,161.2 151.7,163.4 147.2,166.4 142.8,168.7 138.3,171.6 135.3,173.9 133.3,177.7 132.9,183.6 132.4,187.6 130.5,191.6 128.2,196.2 124.7,200.9 121.2,205.5 117.7,210.1 115.4,213.0 113.1,215.9 110.8,219.4 108.4,223.1 106.4,225.6 104.4,227.6 101.4,229.1 97.4,229.6 93.4,229.1 89.9,227.6 86.4,227.1 84.4,225.6 82.9,223.6 82.4,220.6 83.4,215.6 84.4,210.6 85.4,206.6 86.9,203.6 89.2,201.6"/><polyline points="128.2,193.9 123.5,198.5 120.0,203.2 117.7,206.7 116.0,209.0 114.7,211.8"/><polyline points="39.4,18.6 38.4,16.6 36.4,17.1 33.4,18.1 29.4,18.1 25.9,18.6 25.6,20.6 25.9,22.6 28.4,23.6 26.4,24.1 24.9,25.1 24.9,27.6 25.9,29.6 26.9,31.6 27.4,34.6 26.9,38.6 27.4,42.6 26.9,46.6 26.2,50.6 25.4,52.8"/><polyline points="-3.0,27.4 -0.6,29.1 1.4,30.6 3.4,32.6 5.4,35.1 7.4,37.6 9.4,40.6 11.4,42.1 14.4,41.1 16.9,41.6 19.4,42.1 22.4,43.1 24.4,44.1 25.4,45.6 24.9,47.6 22.9,50.1 21.9,51.4 23.9,52.4 25.4,52.8"/><polyline points="25.4,52.8 23.9,52.4 20.9,53.4 18.4,53.8 15.9,54.8 13.4,56.1 11.4,58.1 9.4,60.6 8.4,63.1 6.9,65.6 5.9,68.6 4.9,71.1 5.4,73.6 6.9,75.0 8.4,77.6 8.9,80.1 9.4,81.6 10.9,82.6 11.9,83.1 13.4,84.6 15.4,85.6 17.9,86.1 20.4,84.6 21.4,83.6 21.9,86.1 22.4,91.6 23.4,92.6 25.9,92.1 28.4,92.6 30.9,93.1 33.4,91.6 34.9,90.1 36.4,88.1 38.4,86.6 40.4,85.6 42.9,85.1 45.4,84.6 47.4,84.6 48.4,85.6 47.9,88.6 48.4,91.6 48.9,94.6 51.4,97.6 53.9,99.6 56.4,101.1 59.4,103.1 62.4,104.6 65.4,105.6 68.4,106.6 70.9,107.6 72.4,109.1 72.9,111.1 72.9,113.6 72.4,116.1 73.4,117.6 73.9,120.6 74.9,122.6 78.9,123.1 82.4,123.1 83.4,124.6 83.4,127.6 84.4,129.6 86.4,130.6 86.9,133.1 86.4,135.6 85.4,138.6 84.9,141.9 84.9,143.1 85.4,144.6 85.4,148.6 84.9,152.6 85.4,156.1 88.4,157.1 91.4,157.1 93.4,156.6 95.4,157.6 96.9,159.1 97.7,162.1 98.4,164.6 100.4,166.1 102.4,166.6 103.4,168.6 103.9,171.6 103.4,174.1 102.9,175.6 104.4,176.1 105.9,177.6 106.4,180.6 106.9,183.1 107.4,185.6 105.2,186.1 102.4,186.6 98.4,189.6 95.4,192.6 92.4,195.6 89.9,199.6 89.2,201.6 92.4,203.6 94.9,205.6 95.9,207.6 97.4,208.1 100.4,209.6 102.9,210.6 105.4,212.6 106.9,214.6 108.4,216.6 109.4,219.1 108.4,222.1 108.4,223.1"/><polyline points="27.2,92.0 27.9,93.1 28.9,95.6 29.9,97.6 30.9,100.1 31.4,101.6 30.7,106.1 29.2,110.6 30.0,115.0 28.5,118.0 29.2,121.0 30.7,123.9 29.2,126.2 27.7,128.4 27.0,129.9"/><polyline points="-3.0,116.0 -0.6,118.0 3.9,121.0 8.3,123.9 12.8,126.9 17.3,129.9 20.2,132.1 23.2,134.4 23.2,138.8 24.0,141.6 24.4,147.5 24.0,153.5 23.2,158.0 22.5,163.9 22.9,168.4 22.5,172.9 21.7,178.9 20.9,182.3 19.3,188.2 17.6,196.5 18.4,201.5 16.8,206.5 17.3,213.0 17.6,217.2 15.9,223.0 14.3,228.0 13.5,231.3 13.0,233.7"/><polyline points="27.0,129.9 25.0,132.1 23.2,134.4"/><polyline points="27.0,129.9 27.7,132.9 30.0,137.4 31.4,141.8 31.4,146.1 32.9,150.5 34.4,155.0 35.9,158.7 37.4,161.0 39.3,160.7"/><polyline points="39.3,160.7 38.9,163.9 35.9,167.7 32.9,169.9 32.2,174.4 32.5,180.4 33.3,184.1 30.9,186.5 28.4,190.7 25.9,195.7 25.0,200.6 24.2,204.8 22.6,210.5 23.9,215.6 25.0,221.3 24.2,226.3 23.4,231.3 23.2,233.7"/><polyline points="39.3,160.7 40.4,158.0 42.6,155.7 44.8,155.0 47.1,155.7 50.8,156.5 52.3,158.0 53.1,159.5 54.5,156.5 57.5,155.7 61.2,156.1 62.0,156.5"/><polyline points="62.0,156.5 62.7,153.5 63.5,149.0 65.0,145.3 67.9,142.3 71.4,140.1 75.4,139.6 79.4,140.1 82.4,141.6 84.9,143.1"/><polyline points="62.0,156.5 65.0,159.5 67.9,162.5 71.4,166.1 75.4,167.6 79.4,169.6 83.4,172.1 86.4,174.1 87.4,176.6 85.9,179.6 84.4,182.6 82.4,185.6 84.4,186.4 88.4,187.1 92.4,187.6 96.4,186.6 99.4,184.6 101.4,182.1 102.4,178.6 102.9,175.6"/><polyline points="123.4,26.1 122.0,28.9 120.3,32.8 117.5,35.7 113.5,37.4 111.7,38.7"/><polyline points="120.5,30.2 122.0,33.9 123.4,37.5 125.2,38.9"/></g></svg>
<rect x="0" y="0" width="225.45" height="230.80" fill="none" stroke="#777" stroke-width="1.1"/>
</svg>
<div class="yl" style="right:527.7px;top:46.0px">0<span class="dg">°</span></div><div class="yl" style="right:525.4px;top:103.6px">10<span class="dg">°</span>S</div><div class="yl" style="right:525.4px;top:161.3px">20<span class="dg">°</span>S</div><div class="yl" style="right:525.4px;top:219.0px">30<span class="dg">°</span>S</div>
<div class="yl" style="right:268.1px;top:46.0px">0<span class="dg">°</span></div><div class="yl" style="right:265.8px;top:103.6px">10<span class="dg">°</span>S</div><div class="yl" style="right:265.8px;top:161.3px">20<span class="dg">°</span>S</div><div class="yl" style="right:265.8px;top:219.0px">30<span class="dg">°</span>S</div>
<div class="xl" style="left:83.0px;top:258.3px">60<span class="dg">°</span>W</div><div class="xl" style="left:157.8px;top:258.3px">45<span class="dg">°</span>W</div>
<div class="xl" style="left:342.5px;top:258.3px">60<span class="dg">°</span>W</div><div class="xl" style="left:417.4px;top:258.3px">45<span class="dg">°</span>W</div>
<div class="cb" style="left:5px;width:49.6px;background:#1a6fc4"></div>
<div class="cb" style="left:54.6px;width:49.6px;background:#009900"></div>
<div class="cb" style="left:104.2px;width:49.6px;background:#ffee22"></div>
<div class="cb" style="left:153.8px;width:49.6px;background:#f9b532"></div>
<div class="cb" style="left:203.4px;width:49.6px;background:#d9700a"></div>
<div class="cl" style="left:-1.1999999999999993px">Water</div>
<div class="cl" style="left:49.5px">Forests</div>
<div class="cl" style="left:99px">Savannas</div>
<div class="cl" style="left:148.8px">Grasslands</div>
<div class="cl" style="left:199px">Croplands</div>
<div class="cb" style="left:265px;width:249.6px;background:linear-gradient(to right,#ff2a10 0%,#ff5a00 10%,#ff9000 20%,#ffc000 30%,#ffee00 37%,#eeff00 40%,#ccff00 45%,#99ff11 50%,#77ff22 54%,#00ff00 54.2%,#00ff22 90%,#33ff66 100%)"></div>
<div class="cl" style="left:235.39999999999998px">0</div>
<div class="cl" style="left:285px">20</div>
<div class="cl" style="left:335px">40</div>
<div class="cl" style="left:385px">60</div>
<div class="cl" style="left:435px">80</div>
<div class="cl" style="left:485px">100</div>
<div class="cl" style="left:505px">(%)</div>
</body></html>
